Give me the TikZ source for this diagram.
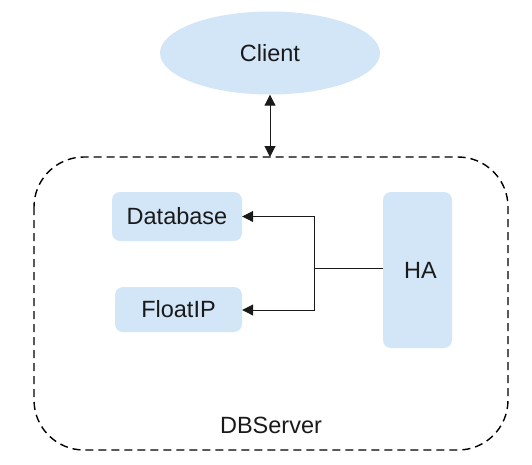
\documentclass[tikz,border=0pt]{standalone}
\usepackage{fontspec}
\setmainfont{Liberation Sans}
\usetikzlibrary{arrows.meta,shapes.geometric}
\definecolor{boxfill}{HTML}{D3E6F8}
\definecolor{txt}{HTML}{1A1A1A}
\tikzset{
  x=1pt,y=-1pt,
  lbl/.style={font=\fontsize{23.5}{26}\selectfont,text=txt},
  box/.style={draw=none,fill=boxfill,rounded corners=8pt,lbl,inner sep=0pt},
  conn/.style={line width=1pt,draw=txt},
  tip/.style={-{Triangle[length=11pt,width=11pt]}},
}
\begin{document}
\begin{tikzpicture}
\useasboundingbox (0,0) rectangle (532,464);
\node[ellipse,fill=boxfill,minimum width=220pt,minimum height=83pt,lbl] (client) at (270,53) {Client};
\draw[line width=1.4pt,dash pattern=on 8pt off 5pt,rounded corners=50pt] (34,157) rectangle (508,450);
\coordinate (srvtop) at (270,157);
\node[box,minimum width=130pt,minimum height=49pt] (db) at (177,216.5) {Database};
\node[box,minimum width=127pt,minimum height=45pt] (fip) at (178.5,309.5) {FloatIP};
\node[box,minimum width=69pt,minimum height=156pt] (ha) at (417.5,270) {\hspace*{6pt}HA};
\node[lbl] (srv) at (271,425) {DBServer};
\draw[conn,{Triangle[length=11pt,width=11pt]}-{Triangle[length=11pt,width=11pt]}] (client.south) -- (srvtop);
\coordinate (mid) at (314,268);
\draw[conn] (ha.west |- mid) -- (mid);
\draw[conn,tip] (mid) |- (db.east);
\draw[conn,tip] (mid) |- (fip.east |- 0,310);
\end{tikzpicture}
\end{document}
